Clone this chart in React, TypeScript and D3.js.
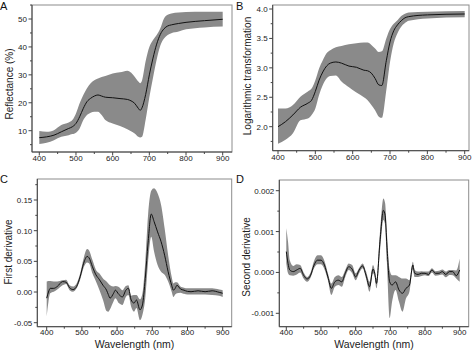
import React from "react";
import * as d3 from "d3";

// ---------- Panel A: Reflectance (%) ----------
const wlA = [400,420,440,460,480,490,500,510,520,530,540,550,560,570,580,600,620,640,650,660,670,675,680,690,700,710,720,730,740,750,760,780,800,850,900];
const meanA = [7.5,7.8,8.4,9.6,10.8,11.4,12.6,15,18,20.4,21.6,22.4,22.8,22.4,22,21.8,21.5,21.2,20.7,19.8,18,17.3,18.2,23,30,36,41,44.5,46.5,47.5,47.9,48.4,48.8,49.4,49.9];
const upA = [9.9,9.6,10.2,12,12.9,13.8,16.2,19.8,22.8,25.2,27,28.1,28.7,29.2,29.6,30.5,30.9,31.5,30.8,29.3,27.6,27,28,35,40,42.5,44.3,46.7,50.2,51.5,52,52.3,52.5,52.6,52.6];
const loA = [5.2,5.7,6.6,7.8,8.4,8.8,9.3,10.8,13.8,15.6,16.4,16.8,16.8,15.6,13.8,12.6,11.7,10.5,9.8,9,7.8,7.6,7.8,14,22,29,35.5,40.5,43,44.3,44.9,45.5,46.3,47,47.3];
const ticksA = [10,20,30,40,50];

// ---------- Panel B: Logarithmic transformation ----------
const wlB = [400,420,440,460,480,490,500,510,520,530,540,555,570,590,610,630,640,650,660,670,678,690,700,710,720,730,740,750,800,900];
const meanB = [2.0,2.085,2.2,2.33,2.4,2.45,2.6,2.79,2.93,3.03,3.08,3.10,3.08,3.03,3.01,2.96,2.95,2.91,2.82,2.71,2.70,3.12,3.44,3.63,3.73,3.80,3.85,3.87,3.90,3.915];
const upB = [2.31,2.31,2.37,2.51,2.6,2.65,2.79,2.99,3.13,3.25,3.30,3.35,3.37,3.40,3.42,3.43,3.43,3.39,3.33,3.27,3.28,3.50,3.66,3.75,3.81,3.88,3.92,3.94,3.955,3.966];
const loB = [1.71,1.78,1.89,2.11,2.14,2.2,2.31,2.54,2.71,2.82,2.86,2.87,2.77,2.67,2.58,2.50,2.45,2.37,2.28,2.17,2.15,2.62,3.10,3.42,3.59,3.70,3.76,3.80,3.84,3.86];
const ticksB = [2.0,2.5,3.0,3.5,4.0];

// ---------- Panel C: First derivative ----------
const wlC = [400,405,410,420,430,445,455,465,475,485,495,505,515,520,530,540,550,560,570,575,580,590,595,605,615,625,632,640,648,655,665,672,680,688,697,705,715,725,735,745,755,760,765,770,780,790,800,810,830,850,870,890,900];
const meanC = [-0.010,0.0,0.006,0.006,0.009,0.017,0.016,0.007,0.004,0.009,0.025,0.047,0.058,0.056,0.041,0.028,0.020,0.011,0.003,-0.004,-0.010,-0.002,0.003,-0.004,-0.008,0.003,0.006,-0.013,-0.018,-0.013,-0.029,-0.021,0.022,0.080,0.127,0.115,0.098,0.082,0.060,0.033,0.011,0.003,0.006,0.011,0.005,0.003,0.001,0.0005,0.002,0.0005,0.002,-0.0005,-0.002];
const upC = [0.017,0.018,0.018,0.017,0.017,0.019,0.020,0.011,0.009,0.014,0.030,0.055,0.070,0.068,0.052,0.036,0.030,0.022,0.017,0.014,0.011,0.009,0.010,0.008,0.003,0.010,0.011,-0.006,-0.005,-0.005,-0.012,-0.002,0.049,0.126,0.165,0.169,0.161,0.142,0.104,0.060,0.025,0.014,0.016,0.016,0.009,0.007,0.006,0.006,0.006,0.006,0.006,0.004,0.003];
const loC = [-0.040,-0.016,-0.002,0.0005,0.004,0.011,0.013,0.003,0.0005,0.006,0.020,0.040,0.048,0.047,0.030,0.017,0.003,-0.013,-0.031,-0.032,-0.028,-0.015,-0.010,-0.018,-0.021,-0.008,-0.005,-0.024,-0.032,-0.026,-0.046,-0.037,-0.010,0.049,0.090,0.066,0.044,0.033,0.028,0.017,0.0005,-0.008,-0.004,-0.002,-0.001,-0.003,-0.004,-0.004,-0.004,-0.004,-0.005,-0.006,-0.008];
const ticksC = [-0.05,0.0,0.05,0.1,0.15];

// ---------- Panel D: Second derivative (x 1e-3) ----------
const wlD = [400,405,410,420,430,440,450,460,470,480,490,500,510,520,530,540,550,560,570,580,590,600,610,620,630,640,650,655,660,670,680,685,690,698,705,715,725,735,745,755,765,770,780,790,800,810,820,830,840,850,860,870,880,890,900];
const meanD = [0.51,0.22,0.06,0.02,0.06,0.10,-0.07,-0.16,-0.07,0.18,0.30,0.30,0.18,-0.11,-0.39,-0.23,-0.19,-0.23,-0.02,0.14,0.08,-0.11,0.06,0.16,-0.07,-0.35,0.08,-0.02,-0.27,0.75,1.52,1.40,0.67,-0.23,-0.31,-0.23,-0.43,-0.51,-0.39,-0.31,0.18,-0.02,-0.05,-0.02,-0.02,-0.05,0.06,-0.02,-0.02,0.02,-0.05,0.02,0.02,-0.08,0.06];
const upD = [1.08,0.75,0.30,0.16,0.20,0.18,0,-0.11,0,0.28,0.42,0.42,0.28,-0.02,-0.27,-0.11,-0.07,-0.11,0.06,0.22,0.18,-0.02,0.11,0.22,0.02,-0.23,0.18,0.06,-0.15,0.98,1.81,1.69,0.98,0.06,-0.07,-0.07,-0.11,-0.15,-0.15,-0.19,0.26,0.06,0.02,0.03,0.02,0.02,0.1,0.03,0.04,0.07,0.02,0.06,0.06,0.05,0.34];
const loD = [0.22,-0.02,-0.07,-0.08,-0.05,0,-0.15,-0.23,-0.13,0.10,0.20,0.20,0.08,-0.19,-0.55,-0.35,-0.31,-0.35,-0.11,0.06,-0.02,-0.19,-0.02,0.10,-0.15,-0.47,-0.02,-0.11,-0.39,0.51,1.28,1.16,0.26,-1.12,-0.72,-0.43,-0.72,-0.96,-0.64,-0.47,0.08,-0.11,-0.11,-0.09,-0.07,-0.09,0.0,-0.08,-0.07,-0.05,-0.12,-0.06,-0.07,-0.15,-0.23];
const ticksD = [-1, 0, 1, 2]; // x 1e-3

const xTicks = [400,500,600,700,800,900];
const xMinor = [450,550,650,750,850];

const FONT = "'Liberation Sans', Arial, sans-serif";
const TXT = "#222";

type PanelProps = {
  letter: string;
  box: [number, number, number, number]; // left, top, right, bottom
  xr: [number, number];
  ydom: [number, number];
  yr: [number, number];
  wl: number[]; mean: number[]; up: number[]; lo: number[];
  yTicks: number[]; yMinorStep: number; fmt: (v: number) => string;
  ylabel: string; ylabelX: number; ylabelY: number;
  letterPos: [number, number];
  xTickY: number; xTitle?: boolean;
};

function Panel(p: PanelProps) {
  const [L, T, R, B] = p.box;
  const x = d3.scaleLinear().domain([400, 900]).range(p.xr);
  const y = d3.scaleLinear().domain(p.ydom).range(p.yr);
  const idx = p.wl.map((_, i) => i);
  const area = d3.area<number>().x(i => x(p.wl[i])).y0(i => y(p.lo[i])).y1(i => y(p.up[i])).curve(d3.curveMonotoneX);
  const line = d3.line<number>().x(i => x(p.wl[i])).y(i => y(p.mean[i])).curve(d3.curveMonotoneX);
  const yMin = y.invert(B), yMax = y.invert(T);
  const minors: number[] = [];
  const start = Math.ceil(yMin / p.yMinorStep);
  for (let k = start; k * p.yMinorStep <= yMax; k++) {
    const v = k * p.yMinorStep;
    if (!p.yTicks.some(t => Math.abs(t - v) < 1e-9)) minors.push(v);
  }
  const clipId = "clip" + p.letter;
  return (
    <g>
      <defs>
        <clipPath id={clipId}><rect x={L} y={T} width={R - L} height={B - T} /></clipPath>
      </defs>
      <g clipPath={`url(#${clipId})`}>
        <path d={area(idx) || ""} fill="#8a8a8a" stroke="none" />
        <path d={line(idx) || ""} fill="none" stroke="#111" strokeWidth={1} />
      </g>
      <rect x={L} y={T} width={R - L} height={B - T} fill="none" stroke="#8c8c8c" strokeWidth={1} />
      <line x1={L} x2={L} y1={T} y2={B} stroke="#444" />
      <line x1={L} x2={R} y1={B} y2={B} stroke="#444" />
      {xTicks.map(t => (
        <g key={"x" + t}>
          <line x1={x(t)} x2={x(t)} y1={B} y2={B + 3.5} stroke="#444" />
          <text x={x(t)} y={p.xTickY} textAnchor="middle" fontSize={8} fontFamily={FONT} fill={TXT}>{t}</text>
        </g>
      ))}
      {xMinor.map(t => (
        <line key={"xm" + t} x1={x(t)} x2={x(t)} y1={B} y2={B + 2} stroke="#444" />
      ))}
      {p.yTicks.map(t => (
        <g key={"y" + t}>
          <line x1={L - 3.5} x2={L} y1={y(t)} y2={y(t)} stroke="#444" />
          <text x={L - 5} y={y(t) + 3} textAnchor="end" fontSize={8} fontFamily={FONT} fill={TXT}>{p.fmt(t)}</text>
        </g>
      ))}
      {minors.map(t => (
        <line key={"ym" + t} x1={L - 2} x2={L} y1={y(t)} y2={y(t)} stroke="#444" />
      ))}
      <text transform={`translate(${p.ylabelX},${p.ylabelY}) rotate(-90)`} textAnchor="middle" dominantBaseline="central" fontSize={10} fontFamily={FONT} fill={TXT}>{p.ylabel}</text>
      {p.xTitle && (
        <text x={(L + R) / 2} y={B + 21} textAnchor="middle" fontSize={10.5} fontFamily={FONT} fill={TXT}>Wavelength (nm)</text>
      )}
      <text x={p.letterPos[0]} y={p.letterPos[1]} fontSize={11} fontFamily={FONT} fill="#111">{p.letter}</text>
    </g>
  );
}

const hy = (v: number) => v.toFixed(3).replace("−", "-");

export default function App() {
  return (
    <svg width={474} height={355} style={{ position: "absolute", left: 0, top: 0, background: "#fff" }}>
      <rect x={0} y={0} width={474} height={355} fill="#fff" />
      <Panel letter="A" box={[32, 5, 232, 152]} xr={[39.3, 222.7]} ydom={[10, 50]} yr={[130.7, 19]}
        wl={wlA} mean={meanA} up={upA} lo={loA} yTicks={ticksA} yMinorStep={5} fmt={v => String(v)}
        ylabel="Reflectance (%)" ylabelX={9} ylabelY={84} letterPos={[0, 10]} xTickY={161} />
      <Panel letter="B" box={[272.7, 5, 469, 150.7]} xr={[278, 464.7]} ydom={[2, 4]} yr={[126.7, 9]}
        wl={wlB} mean={meanB} up={upB} lo={loB} yTicks={ticksB} yMinorStep={0.25} fmt={v => v.toFixed(1)}
        ylabel="Logarithmic transformation" ylabelX={247} ylabelY={76} letterPos={[236, 10]} xTickY={160} />
      <Panel letter="C" box={[37.3, 179, 231.7, 326.7]} xr={[46.7, 222.7]} ydom={[-0.05, 0.15]} yr={[322.7, 200]}
        wl={wlC} mean={meanC} up={upC} lo={loC} yTicks={ticksC} yMinorStep={0.025} fmt={v => v.toFixed(2)}
        ylabel="First derivative" ylabelX={8} ylabelY={252} letterPos={[0, 183]} xTickY={335} xTitle />
      <Panel letter="D" box={[279.3, 180, 468.7, 326.7]} xr={[286.3, 459.7]} ydom={[-1, 2]} yr={[313.3, 190.7]}
        wl={wlD} mean={meanD} up={upD} lo={loD} yTicks={ticksD} yMinorStep={0.5} fmt={v => hy(v / 1000)}
        ylabel="Second derivative" ylabelX={246} ylabelY={257} letterPos={[236, 183]} xTickY={335} xTitle />
    </svg>
  );
}
